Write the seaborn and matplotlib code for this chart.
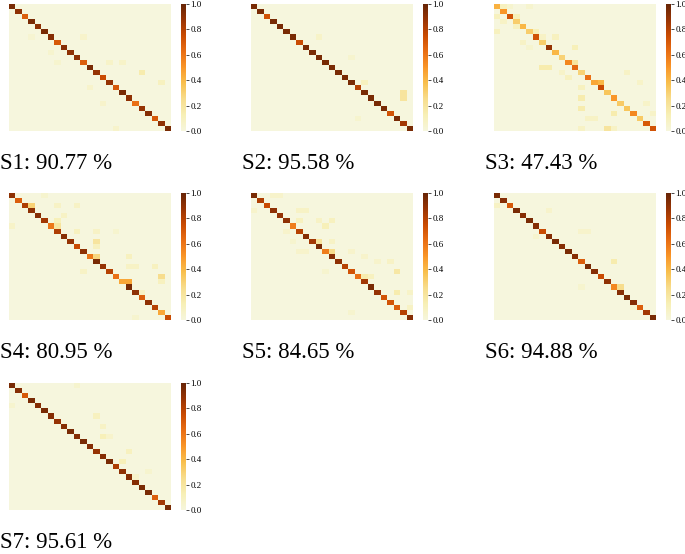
import numpy as np
import matplotlib
matplotlib.use("Agg")
import matplotlib.pyplot as plt
from matplotlib.colors import ListedColormap
import seaborn as sns

# Per-subject confusion matrices (25 classes)
n_classes = 25
subjects = ["S1", "S2", "S3", "S4", "S5", "S6", "S7"]
accuracies = [90.77, 95.58, 47.43, 80.95, 84.65, 94.88, 95.61]

# diagonal (correct rate per class)
s1_diag = [0.95, 0.90, 0.68, 0.95, 0.90, 0.95, 0.92, 0.70, 0.92, 0.90, 0.90, 0.68, 0.95,
           0.88, 0.75, 0.88, 0.70, 0.95, 0.90, 0.62, 0.88, 0.92, 0.70, 0.90, 0.95]
s2_diag = [0.95, 0.95, 0.72, 0.95, 0.95, 0.95, 0.95, 0.75, 0.95, 0.95, 0.95, 0.95, 0.95,
           0.95, 0.95, 0.95, 0.80, 0.95, 0.95, 0.95, 0.95, 0.72, 0.95, 0.85, 0.95]
s3_diag = [0.42, 0.50, 0.72, 0.32, 0.40, 0.32, 0.72, 0.32, 0.88, 0.40, 0.30, 0.55, 0.65,
           0.30, 0.62, 0.45, 0.75, 0.35, 0.50, 0.33, 0.35, 0.55, 0.33, 0.70, 0.72]
s4_diag = [0.90, 0.68, 0.82, 0.90, 0.92, 0.85, 0.60, 0.82, 0.92, 0.88, 0.75, 0.90, 0.60,
           0.95, 0.88, 0.80, 0.62, 0.45, 0.95, 0.90, 0.68, 0.90, 0.80, 0.45, 0.75]
s5_diag = [0.95, 0.82, 0.75, 0.90, 0.88, 0.90, 0.58, 0.80, 0.92, 0.85, 0.95, 0.58, 0.92,
           0.90, 0.80, 0.72, 0.62, 0.85, 0.95, 0.88, 0.72, 0.72, 0.68, 0.80, 0.92]
s6_diag = [0.95, 0.92, 0.70, 0.95, 0.92, 0.95, 0.92, 0.75, 0.92, 0.95, 0.92, 0.95, 0.92,
           0.68, 0.95, 0.92, 0.75, 0.90, 0.55, 0.92, 0.95, 0.92, 0.68, 0.85, 0.95]
s7_diag = [0.95, 0.92, 0.70, 0.95, 0.92, 0.95, 0.92, 0.88, 0.92, 0.95, 0.92, 0.95, 0.92,
           0.88, 0.92, 0.95, 0.82, 0.90, 0.92, 0.92, 0.95, 0.95, 0.68, 0.85, 0.95]

# visible off-diagonal confusions: (true row, predicted col, rate)
s1_off = [(6, 11, 0.06), (13, 20, 0.15), (15, 23, 0.10), (11, 15, 0.07), (11, 17, 0.07),
          (16, 12, 0.06), (19, 14, 0.06), (24, 16, 0.06), (6, 3, 0.04), (9, 6, 0.05),
          (11, 7, 0.05)]
s2_off = [(17, 23, 0.20), (18, 23, 0.20), (15, 17, 0.10), (6, 10, 0.07), (10, 15, 0.05),
          (22, 16, 0.05)]
s3_off = [(0, 1, 0.10), (0, 2, 0.05), (0, 5, 0.05), (2, 0, 0.10), (3, 1, 0.08), (2, 3, 0.12),
          (4, 3, 0.10), (5, 0, 0.10), (5, 6, 0.12), (6, 7, 0.08), (6, 9, 0.10), (7, 4, 0.08),
          (8, 5, 0.05), (8, 12, 0.12), (11, 12, 0.20), (12, 7, 0.15), (12, 8, 0.15),
          (13, 10, 0.07), (14, 11, 0.10), (15, 16, 0.40), (16, 13, 0.10), (18, 13, 0.15),
          (20, 13, 0.15), (21, 18, 0.15), (13, 20, 0.08), (15, 22, 0.07), (24, 17, 0.20),
          (24, 18, 0.08), (22, 14, 0.08), (22, 15, 0.08), (24, 13, 0.08), (21, 24, 0.07),
          (19, 23, 0.07)]
s4_off = [(2, 3, 0.30), (6, 7, 0.20), (12, 13, 0.28), (17, 18, 0.45), (2, 7, 0.08),
          (2, 10, 0.08), (6, 0, 0.07), (5, 7, 0.12), (7, 10, 0.10), (7, 13, 0.08),
          (9, 13, 0.20), (10, 13, 0.10), (7, 16, 0.05), (12, 18, 0.10), (14, 18, 0.08),
          (14, 19, 0.08), (14, 22, 0.10), (16, 23, 0.25), (17, 23, 0.10), (15, 11, 0.08),
          (19, 20, 0.08), (24, 19, 0.05), (0, 5, 0.05), (4, 8, 0.08)]
s5_off = [(9, 10, 0.20), (11, 12, 0.25), (16, 17, 0.15), (16, 18, 0.10), (0, 3, 0.06),
          (0, 4, 0.06), (3, 0, 0.06), (3, 7, 0.08), (3, 8, 0.08), (5, 7, 0.10), (5, 10, 0.08),
          (5, 12, 0.10), (6, 11, 0.12), (7, 5, 0.06), (9, 6, 0.05), (9, 12, 0.08),
          (11, 7, 0.06), (11, 8, 0.06), (11, 15, 0.06), (12, 17, 0.06), (13, 19, 0.06),
          (13, 21, 0.08), (15, 22, 0.18), (19, 22, 0.15), (19, 24, 0.07), (22, 24, 0.08),
          (23, 15, 0.05), (15, 11, 0.05)]
s6_off = [(18, 19, 0.25), (2, 0, 0.08), (3, 8, 0.06), (7, 13, 0.06), (7, 14, 0.06),
          (13, 18, 0.15), (18, 13, 0.05), (22, 21, 0.05), (8, 6, 0.05)]
s7_off = [(0, 10, 0.05), (6, 13, 0.10), (8, 14, 0.08), (10, 14, 0.12), (10, 15, 0.06),
          (13, 18, 0.10), (15, 17, 0.12), (18, 19, 0.06), (17, 21, 0.05), (4, 0, 0.05)]

all_diag = [s1_diag, s2_diag, s3_diag, s4_diag, s5_diag, s6_diag, s7_diag]
all_off = [s1_off, s2_off, s3_off, s4_off, s5_off, s6_off, s7_off]


def build_matrix(diag, off):
    m = np.zeros((n_classes, n_classes))
    m[np.arange(n_classes), np.arange(n_classes)] = diag
    for r, c, v in off:
        m[r, c] = v
    return m


# YlOrBr, slightly dulled at the pale end (the reference background is beige)
base = plt.get_cmap("YlOrBr")(np.linspace(0, 1, 256))
base[:, :3] *= np.linspace(0.965, 1.0, 256)[:, None]
cmap = ListedColormap(base)

fig = plt.figure(figsize=(6.85, 5.54), dpi=100)
W, H = 685.0, 554.0

col_x = [9, 251, 494]
row_y = [4, 193, 383]
hm_w, hm_h = 162, 127
cb_gap, cb_w = 10, 5

for i, name in enumerate(subjects):
    r, c = divmod(i, 3)
    x0, y0 = col_x[c], row_y[r]
    ax = fig.add_axes([x0 / W, 1 - (y0 + hm_h) / H, hm_w / W, hm_h / H])
    cax = fig.add_axes([(x0 + hm_w + cb_gap) / W, 1 - (y0 + hm_h) / H, cb_w / W, hm_h / H])

    cm = build_matrix(all_diag[i], all_off[i])
    sns.heatmap(cm, ax=ax, cbar_ax=cax, cmap=cmap, vmin=0, vmax=1,
                xticklabels=False, yticklabels=False)

    cax.set_yticks([0.0, 0.2, 0.4, 0.6, 0.8, 1.0])
    cax.set_yticklabels(["0.0", "0.2", "0.4", "0.6", "0.8", "1.0"])
    cax.tick_params(labelsize=6.5, length=2, width=0.5, pad=1)
    for lab in cax.get_yticklabels():
        lab.set_fontfamily("Liberation Serif")

    fig.text((x0 - 9) / W, 1 - (y0 + hm_h + 38) / H, f"{name}: {accuracies[i]:.2f} %",
             fontsize=16.5, family="Liberation Serif", ha="left", va="baseline")

fig.savefig("out.png", dpi=100)
